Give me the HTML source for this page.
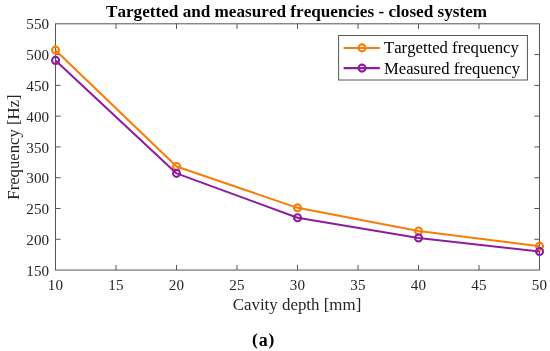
<!DOCTYPE html>
<html><head><meta charset="utf-8"><title>Targetted and measured frequencies</title>
<style>html,body{margin:0;padding:0;background:#fff}svg{display:block}text{font-family:"Liberation Serif",serif;font-kerning:none}</style></head><body>
<svg width="550" height="351" viewBox="0 0 550 351">
<rect width="550" height="351" fill="#fff"/>
<path d="M116.00 270.05v-5.1M116.00 23.8v5.1M176.50 270.05v-5.1M176.50 23.8v5.1M237.00 270.05v-5.1M237.00 23.8v5.1M297.50 270.05v-5.1M297.50 23.8v5.1M358.00 270.05v-5.1M358.00 23.8v5.1M418.50 270.05v-5.1M418.50 23.8v5.1M479.00 270.05v-5.1M479.00 23.8v5.1M55.5 239.27h5.1M539.5 239.27h-5.1M55.5 208.49h5.1M539.5 208.49h-5.1M55.5 177.71h5.1M539.5 177.71h-5.1M55.5 146.93h5.1M539.5 146.93h-5.1M55.5 116.14h5.1M539.5 116.14h-5.1M55.5 85.36h5.1M539.5 85.36h-5.1M55.5 54.58h5.1M539.5 54.58h-5.1" stroke="#565656" stroke-width="1" fill="none"/>
<rect x="55.5" y="23.8" width="484.0" height="246.25" fill="none" stroke="#565656" stroke-width="1"/>
<g font-size="15.1" fill="#262626">
<text x="55.40" y="290.4" text-anchor="middle">10</text>
<text x="115.90" y="290.4" text-anchor="middle">15</text>
<text x="176.40" y="290.4" text-anchor="middle">20</text>
<text x="236.90" y="290.4" text-anchor="middle">25</text>
<text x="297.40" y="290.4" text-anchor="middle">30</text>
<text x="357.90" y="290.4" text-anchor="middle">35</text>
<text x="418.40" y="290.4" text-anchor="middle">40</text>
<text x="478.90" y="290.4" text-anchor="middle">45</text>
<text x="539.40" y="290.4" text-anchor="middle">50</text>
<text x="49" y="275.65" text-anchor="end">150</text>
<text x="49" y="244.87" text-anchor="end">200</text>
<text x="49" y="214.09" text-anchor="end">250</text>
<text x="49" y="183.31" text-anchor="end">300</text>
<text x="49" y="152.53" text-anchor="end">350</text>
<text x="49" y="121.74" text-anchor="end">400</text>
<text x="49" y="90.96" text-anchor="end">450</text>
<text x="49" y="60.18" text-anchor="end">500</text>
<text x="49" y="29.40" text-anchor="end">550</text>
</g>
<text x="297.0" y="310.3" font-size="16.9" text-anchor="middle" fill="#262626">Cavity depth [mm]</text>
<text transform="translate(18.5 147.05) rotate(-90)" font-size="16.7" text-anchor="middle" fill="#262626">Frequency [Hz]</text>
<text transform="translate(296.5 16.5) scale(1 1.035)" font-size="17.16" font-weight="bold" text-anchor="middle" fill="#000">Targetted and measured frequencies - closed system</text>
<text x="252.0" y="344.57" font-size="17.4" font-weight="bold" fill="#000"><tspan>(</tspan><tspan font-size="18" dx="0.9" dy="1.18">a</tspan><tspan dx="0.8" dy="-1.18">)</tspan></text>
<polyline points="55.55,50.14 176.55,166.56 297.55,207.86 418.55,230.95 539.55,246.16" fill="none" stroke="#F97C08" stroke-width="2.05" stroke-linejoin="round"/>
<circle cx="55.55" cy="50.14" r="3.5" fill="none" stroke="#F97C08" stroke-width="2.1"/>
<circle cx="176.55" cy="166.56" r="3.5" fill="none" stroke="#F97C08" stroke-width="2.1"/>
<circle cx="297.55" cy="207.86" r="3.5" fill="none" stroke="#F97C08" stroke-width="2.1"/>
<circle cx="418.55" cy="230.95" r="3.5" fill="none" stroke="#F97C08" stroke-width="2.1"/>
<circle cx="539.55" cy="246.16" r="3.5" fill="none" stroke="#F97C08" stroke-width="2.1"/>
<polyline points="55.55,60.42 176.55,173.39 297.55,217.71 418.55,238.03 539.55,251.57" fill="none" stroke="#8E1C9E" stroke-width="2.05" stroke-linejoin="round"/>
<circle cx="55.55" cy="60.42" r="3.5" fill="none" stroke="#8E1C9E" stroke-width="2.1"/>
<circle cx="176.55" cy="173.39" r="3.5" fill="none" stroke="#8E1C9E" stroke-width="2.1"/>
<circle cx="297.55" cy="217.71" r="3.5" fill="none" stroke="#8E1C9E" stroke-width="2.1"/>
<circle cx="418.55" cy="238.03" r="3.5" fill="none" stroke="#8E1C9E" stroke-width="2.1"/>
<circle cx="539.55" cy="251.57" r="3.5" fill="none" stroke="#8E1C9E" stroke-width="2.1"/>
<rect x="338.6" y="35.5" width="188.8" height="44.5" fill="#fff" stroke="#565656" stroke-width="1"/>
<path d="M343.6 47.9H379.8" stroke="#F97C08" stroke-width="2.05"/>
<circle cx="362" cy="47.9" r="3.5" fill="none" stroke="#F97C08" stroke-width="2.1"/>
<text x="384" y="53.40" font-size="16.72" fill="#000">Targetted frequency</text>
<path d="M343.6 68.1H379.8" stroke="#8E1C9E" stroke-width="2.05"/>
<circle cx="362" cy="68.1" r="3.5" fill="none" stroke="#8E1C9E" stroke-width="2.1"/>
<text x="384" y="73.60" font-size="16.62" fill="#000">Measured frequency</text>
</svg></body></html>
